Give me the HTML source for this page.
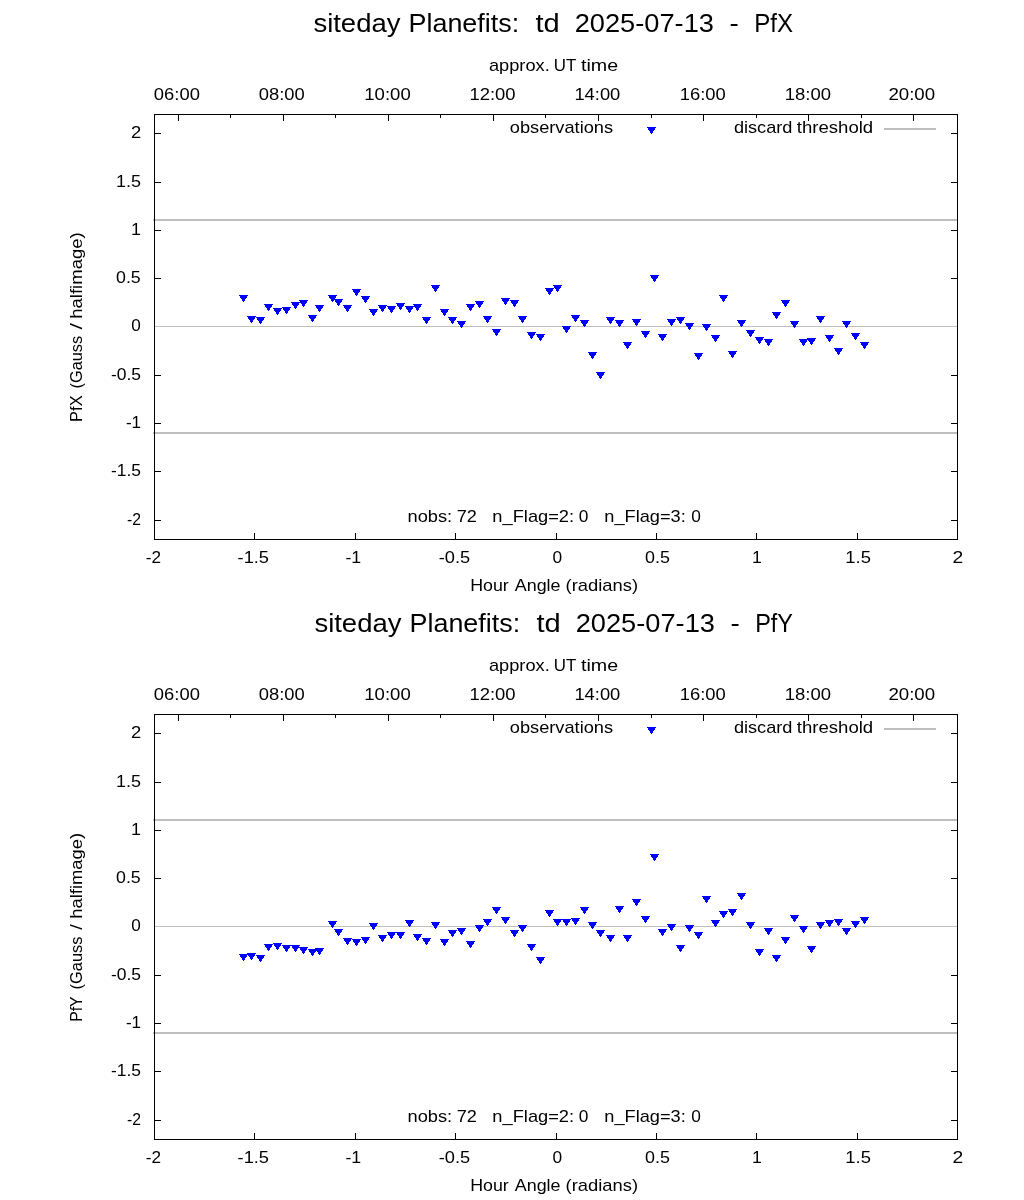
<!DOCTYPE html>
<html><head><meta charset="utf-8"><style>
html,body{margin:0;padding:0;background:#fff;}
svg{display:block;will-change:transform;}
text{font-family:"Liberation Sans",sans-serif;fill:#000;white-space:pre;}
rect,path{shape-rendering:crispEdges;}
</style></head><body>
<svg width="1024" height="1200" viewBox="0 0 1024 1200">
<rect x="0" y="0" width="1024" height="1200" fill="#fff"/>
<rect x="153" y="219" width="805" height="2" fill="#bebebe"/>
<rect x="153" y="432" width="805" height="2" fill="#bebebe"/>
<rect x="155" y="326" width="802" height="1" fill="#c0c0c0"/>
<rect x="154" y="114" width="804" height="1" fill="#000"/>
<rect x="154" y="539" width="804" height="1" fill="#000"/>
<rect x="154" y="114" width="1" height="426" fill="#000"/>
<rect x="957" y="114" width="1" height="426" fill="#000"/>
<rect x="154" y="133" width="7" height="1" fill="#000"/>
<rect x="951" y="133" width="7" height="1" fill="#000"/>
<rect x="154" y="182" width="7" height="1" fill="#000"/>
<rect x="951" y="182" width="7" height="1" fill="#000"/>
<rect x="154" y="230" width="7" height="1" fill="#000"/>
<rect x="951" y="230" width="7" height="1" fill="#000"/>
<rect x="154" y="278" width="7" height="1" fill="#000"/>
<rect x="951" y="278" width="7" height="1" fill="#000"/>
<rect x="154" y="375" width="7" height="1" fill="#000"/>
<rect x="951" y="375" width="7" height="1" fill="#000"/>
<rect x="154" y="423" width="7" height="1" fill="#000"/>
<rect x="951" y="423" width="7" height="1" fill="#000"/>
<rect x="154" y="471" width="7" height="1" fill="#000"/>
<rect x="951" y="471" width="7" height="1" fill="#000"/>
<rect x="154" y="520" width="7" height="1" fill="#000"/>
<rect x="951" y="520" width="7" height="1" fill="#000"/>
<rect x="254" y="533" width="1" height="7" fill="#000"/>
<rect x="355" y="533" width="1" height="7" fill="#000"/>
<rect x="455" y="533" width="1" height="7" fill="#000"/>
<rect x="556" y="533" width="1" height="7" fill="#000"/>
<rect x="656" y="533" width="1" height="7" fill="#000"/>
<rect x="756" y="533" width="1" height="7" fill="#000"/>
<rect x="857" y="533" width="1" height="7" fill="#000"/>
<rect x="178" y="114" width="1" height="7" fill="#000"/>
<rect x="230" y="114" width="1" height="4" fill="#000"/>
<rect x="283" y="114" width="1" height="7" fill="#000"/>
<rect x="335" y="114" width="1" height="4" fill="#000"/>
<rect x="388" y="114" width="1" height="7" fill="#000"/>
<rect x="440" y="114" width="1" height="4" fill="#000"/>
<rect x="493" y="114" width="1" height="7" fill="#000"/>
<rect x="545" y="114" width="1" height="4" fill="#000"/>
<rect x="598" y="114" width="1" height="7" fill="#000"/>
<rect x="651" y="114" width="1" height="4" fill="#000"/>
<rect x="703" y="114" width="1" height="7" fill="#000"/>
<rect x="756" y="114" width="1" height="4" fill="#000"/>
<rect x="808" y="114" width="1" height="7" fill="#000"/>
<rect x="861" y="114" width="1" height="4" fill="#000"/>
<rect x="913" y="114" width="1" height="7" fill="#000"/>
<rect x="884" y="128" width="52" height="2" fill="#bebebe"/>
<path d="M239 295h9v1h-1v2h-1v1h-1v2h-1v1h-1v-1h-1v-2h-1v-1h-1v-2h-1zM247 316h9v1h-1v2h-1v1h-1v2h-1v1h-1v-1h-1v-2h-1v-1h-1v-2h-1zM256 317h9v1h-1v2h-1v1h-1v2h-1v1h-1v-1h-1v-2h-1v-1h-1v-2h-1zM264 304h9v1h-1v2h-1v1h-1v2h-1v1h-1v-1h-1v-2h-1v-1h-1v-2h-1zM273 308h9v1h-1v2h-1v1h-1v2h-1v1h-1v-1h-1v-2h-1v-1h-1v-2h-1zM282 307h9v1h-1v2h-1v1h-1v2h-1v1h-1v-1h-1v-2h-1v-1h-1v-2h-1zM291 302h9v1h-1v2h-1v1h-1v2h-1v1h-1v-1h-1v-2h-1v-1h-1v-2h-1zM299 300h9v1h-1v2h-1v1h-1v2h-1v1h-1v-1h-1v-2h-1v-1h-1v-2h-1zM308 315h9v1h-1v2h-1v1h-1v2h-1v1h-1v-1h-1v-2h-1v-1h-1v-2h-1zM315 305h9v1h-1v2h-1v1h-1v2h-1v1h-1v-1h-1v-2h-1v-1h-1v-2h-1zM328 295h9v1h-1v2h-1v1h-1v2h-1v1h-1v-1h-1v-2h-1v-1h-1v-2h-1zM334 299h9v1h-1v2h-1v1h-1v2h-1v1h-1v-1h-1v-2h-1v-1h-1v-2h-1zM343 305h9v1h-1v2h-1v1h-1v2h-1v1h-1v-1h-1v-2h-1v-1h-1v-2h-1zM352 289h9v1h-1v2h-1v1h-1v2h-1v1h-1v-1h-1v-2h-1v-1h-1v-2h-1zM361 296h9v1h-1v2h-1v1h-1v2h-1v1h-1v-1h-1v-2h-1v-1h-1v-2h-1zM369 309h9v1h-1v2h-1v1h-1v2h-1v1h-1v-1h-1v-2h-1v-1h-1v-2h-1zM378 305h9v1h-1v2h-1v1h-1v2h-1v1h-1v-1h-1v-2h-1v-1h-1v-2h-1zM387 306h9v1h-1v2h-1v1h-1v2h-1v1h-1v-1h-1v-2h-1v-1h-1v-2h-1zM396 303h9v1h-1v2h-1v1h-1v2h-1v1h-1v-1h-1v-2h-1v-1h-1v-2h-1zM405 306h9v1h-1v2h-1v1h-1v2h-1v1h-1v-1h-1v-2h-1v-1h-1v-2h-1zM413 304h9v1h-1v2h-1v1h-1v2h-1v1h-1v-1h-1v-2h-1v-1h-1v-2h-1zM422 317h9v1h-1v2h-1v1h-1v2h-1v1h-1v-1h-1v-2h-1v-1h-1v-2h-1zM431 285h9v1h-1v2h-1v1h-1v2h-1v1h-1v-1h-1v-2h-1v-1h-1v-2h-1zM440 309h9v1h-1v2h-1v1h-1v2h-1v1h-1v-1h-1v-2h-1v-1h-1v-2h-1zM448 317h9v1h-1v2h-1v1h-1v2h-1v1h-1v-1h-1v-2h-1v-1h-1v-2h-1zM457 321h9v1h-1v2h-1v1h-1v2h-1v1h-1v-1h-1v-2h-1v-1h-1v-2h-1zM466 304h9v1h-1v2h-1v1h-1v2h-1v1h-1v-1h-1v-2h-1v-1h-1v-2h-1zM475 301h9v1h-1v2h-1v1h-1v2h-1v1h-1v-1h-1v-2h-1v-1h-1v-2h-1zM483 316h9v1h-1v2h-1v1h-1v2h-1v1h-1v-1h-1v-2h-1v-1h-1v-2h-1zM492 329h9v1h-1v2h-1v1h-1v2h-1v1h-1v-1h-1v-2h-1v-1h-1v-2h-1zM501 298h9v1h-1v2h-1v1h-1v2h-1v1h-1v-1h-1v-2h-1v-1h-1v-2h-1zM510 300h9v1h-1v2h-1v1h-1v2h-1v1h-1v-1h-1v-2h-1v-1h-1v-2h-1zM518 316h9v1h-1v2h-1v1h-1v2h-1v1h-1v-1h-1v-2h-1v-1h-1v-2h-1zM527 332h9v1h-1v2h-1v1h-1v2h-1v1h-1v-1h-1v-2h-1v-1h-1v-2h-1zM536 334h9v1h-1v2h-1v1h-1v2h-1v1h-1v-1h-1v-2h-1v-1h-1v-2h-1zM545 288h9v1h-1v2h-1v1h-1v2h-1v1h-1v-1h-1v-2h-1v-1h-1v-2h-1zM553 285h9v1h-1v2h-1v1h-1v2h-1v1h-1v-1h-1v-2h-1v-1h-1v-2h-1zM562 326h9v1h-1v2h-1v1h-1v2h-1v1h-1v-1h-1v-2h-1v-1h-1v-2h-1zM571 315h9v1h-1v2h-1v1h-1v2h-1v1h-1v-1h-1v-2h-1v-1h-1v-2h-1zM580 320h9v1h-1v2h-1v1h-1v2h-1v1h-1v-1h-1v-2h-1v-1h-1v-2h-1zM588 352h9v1h-1v2h-1v1h-1v2h-1v1h-1v-1h-1v-2h-1v-1h-1v-2h-1zM596 372h9v1h-1v2h-1v1h-1v2h-1v1h-1v-1h-1v-2h-1v-1h-1v-2h-1zM606 317h9v1h-1v2h-1v1h-1v2h-1v1h-1v-1h-1v-2h-1v-1h-1v-2h-1zM615 320h9v1h-1v2h-1v1h-1v2h-1v1h-1v-1h-1v-2h-1v-1h-1v-2h-1zM623 342h9v1h-1v2h-1v1h-1v2h-1v1h-1v-1h-1v-2h-1v-1h-1v-2h-1zM632 319h9v1h-1v2h-1v1h-1v2h-1v1h-1v-1h-1v-2h-1v-1h-1v-2h-1zM641 331h9v1h-1v2h-1v1h-1v2h-1v1h-1v-1h-1v-2h-1v-1h-1v-2h-1zM650 275h9v1h-1v2h-1v1h-1v2h-1v1h-1v-1h-1v-2h-1v-1h-1v-2h-1zM658 334h9v1h-1v2h-1v1h-1v2h-1v1h-1v-1h-1v-2h-1v-1h-1v-2h-1zM667 319h9v1h-1v2h-1v1h-1v2h-1v1h-1v-1h-1v-2h-1v-1h-1v-2h-1zM676 317h9v1h-1v2h-1v1h-1v2h-1v1h-1v-1h-1v-2h-1v-1h-1v-2h-1zM685 323h9v1h-1v2h-1v1h-1v2h-1v1h-1v-1h-1v-2h-1v-1h-1v-2h-1zM694 353h9v1h-1v2h-1v1h-1v2h-1v1h-1v-1h-1v-2h-1v-1h-1v-2h-1zM702 324h9v1h-1v2h-1v1h-1v2h-1v1h-1v-1h-1v-2h-1v-1h-1v-2h-1zM711 335h9v1h-1v2h-1v1h-1v2h-1v1h-1v-1h-1v-2h-1v-1h-1v-2h-1zM719 295h9v1h-1v2h-1v1h-1v2h-1v1h-1v-1h-1v-2h-1v-1h-1v-2h-1zM728 351h9v1h-1v2h-1v1h-1v2h-1v1h-1v-1h-1v-2h-1v-1h-1v-2h-1zM737 320h9v1h-1v2h-1v1h-1v2h-1v1h-1v-1h-1v-2h-1v-1h-1v-2h-1zM746 330h9v1h-1v2h-1v1h-1v2h-1v1h-1v-1h-1v-2h-1v-1h-1v-2h-1zM755 337h9v1h-1v2h-1v1h-1v2h-1v1h-1v-1h-1v-2h-1v-1h-1v-2h-1zM764 339h9v1h-1v2h-1v1h-1v2h-1v1h-1v-1h-1v-2h-1v-1h-1v-2h-1zM772 312h9v1h-1v2h-1v1h-1v2h-1v1h-1v-1h-1v-2h-1v-1h-1v-2h-1zM781 300h9v1h-1v2h-1v1h-1v2h-1v1h-1v-1h-1v-2h-1v-1h-1v-2h-1zM790 321h9v1h-1v2h-1v1h-1v2h-1v1h-1v-1h-1v-2h-1v-1h-1v-2h-1zM799 339h9v1h-1v2h-1v1h-1v2h-1v1h-1v-1h-1v-2h-1v-1h-1v-2h-1zM807 338h9v1h-1v2h-1v1h-1v2h-1v1h-1v-1h-1v-2h-1v-1h-1v-2h-1zM816 316h9v1h-1v2h-1v1h-1v2h-1v1h-1v-1h-1v-2h-1v-1h-1v-2h-1zM825 335h9v1h-1v2h-1v1h-1v2h-1v1h-1v-1h-1v-2h-1v-1h-1v-2h-1zM834 348h9v1h-1v2h-1v1h-1v2h-1v1h-1v-1h-1v-2h-1v-1h-1v-2h-1zM842 321h9v1h-1v2h-1v1h-1v2h-1v1h-1v-1h-1v-2h-1v-1h-1v-2h-1zM851 333h9v1h-1v2h-1v1h-1v2h-1v1h-1v-1h-1v-2h-1v-1h-1v-2h-1zM860 342h9v1h-1v2h-1v1h-1v2h-1v1h-1v-1h-1v-2h-1v-1h-1v-2h-1zM647 127h9v1h-1v2h-1v1h-1v2h-1v1h-1v-1h-1v-2h-1v-1h-1v-2h-1z" fill="#0000ff"/>
<text x="313.40" y="31.70" font-size="25.58" textLength="87.06" lengthAdjust="spacingAndGlyphs">siteday</text>
<text x="408.57" y="31.70" font-size="25.58" textLength="110.59" lengthAdjust="spacingAndGlyphs">Planefits:</text>
<text x="535.40" y="31.70" font-size="25.58" textLength="24.27" lengthAdjust="spacingAndGlyphs">td</text>
<text x="574.67" y="31.70" font-size="25.58" textLength="139.34" lengthAdjust="spacingAndGlyphs">2025-07-13</text>
<text x="729.57" y="31.70" font-size="25.58" textLength="9.31" lengthAdjust="spacingAndGlyphs">-</text>
<text x="754.18" y="31.70" font-size="25.58" textLength="38.80" lengthAdjust="spacingAndGlyphs">PfX</text>
<text x="488.98" y="70.90" font-size="16.57" textLength="60.77" lengthAdjust="spacingAndGlyphs">approx.</text>
<text x="553.71" y="70.90" font-size="16.57" textLength="22.49" lengthAdjust="spacingAndGlyphs">UT</text>
<text x="581.02" y="70.90" font-size="16.57" textLength="37.21" lengthAdjust="spacingAndGlyphs">time</text>
<text x="153.84" y="100.25" font-size="16.57" textLength="46.08" lengthAdjust="spacingAndGlyphs">06:00</text>
<text x="258.84" y="100.25" font-size="16.57" textLength="45.98" lengthAdjust="spacingAndGlyphs">08:00</text>
<text x="364.32" y="100.25" font-size="16.57" textLength="46.41" lengthAdjust="spacingAndGlyphs">10:00</text>
<text x="469.42" y="100.25" font-size="16.57" textLength="46.20" lengthAdjust="spacingAndGlyphs">12:00</text>
<text x="574.43" y="100.25" font-size="16.57" textLength="45.89" lengthAdjust="spacingAndGlyphs">14:00</text>
<text x="679.83" y="100.25" font-size="16.57" textLength="45.99" lengthAdjust="spacingAndGlyphs">16:00</text>
<text x="784.72" y="100.25" font-size="16.57" textLength="46.30" lengthAdjust="spacingAndGlyphs">18:00</text>
<text x="888.41" y="100.25" font-size="16.57" textLength="46.72" lengthAdjust="spacingAndGlyphs">20:00</text>
<text x="130.92" y="138.00" font-size="16.57" textLength="10.23" lengthAdjust="spacingAndGlyphs">2</text>
<text x="116.06" y="187.00" font-size="16.57" textLength="25.00" lengthAdjust="spacingAndGlyphs">1.5</text>
<text x="131.07" y="235.00" font-size="16.57" textLength="9.92" lengthAdjust="spacingAndGlyphs">1</text>
<text x="116.02" y="283.00" font-size="16.57" textLength="24.73" lengthAdjust="spacingAndGlyphs">0.5</text>
<text x="131.19" y="331.00" font-size="16.57" textLength="9.53" lengthAdjust="spacingAndGlyphs">0</text>
<text x="110.93" y="380.00" font-size="16.57" textLength="30.08" lengthAdjust="spacingAndGlyphs">-0.5</text>
<text x="125.95" y="428.00" font-size="16.57" textLength="15.13" lengthAdjust="spacingAndGlyphs">-1</text>
<text x="110.93" y="476.00" font-size="16.57" textLength="30.08" lengthAdjust="spacingAndGlyphs">-1.5</text>
<text x="127.00" y="525.00" font-size="16.57" textLength="14.03" lengthAdjust="spacingAndGlyphs">-2</text>
<text transform="translate(81.90 421.90) rotate(-90)" font-size="16.57" textLength="26.55" lengthAdjust="spacingAndGlyphs">PfX</text>
<text transform="translate(81.90 388.50) rotate(-90)" font-size="16.57" textLength="52.66" lengthAdjust="spacingAndGlyphs">(Gauss</text>
<text transform="translate(81.90 329.45) rotate(-90)" font-size="16.57" textLength="6.56" lengthAdjust="spacingAndGlyphs">/</text>
<text transform="translate(81.90 318.74) rotate(-90)" font-size="16.57" textLength="86.49" lengthAdjust="spacingAndGlyphs">halfimage)</text>
<text x="509.81" y="132.80" font-size="16.57" textLength="103.25" lengthAdjust="spacingAndGlyphs">observations</text>
<text x="733.90" y="132.50" font-size="16.57" textLength="58.55" lengthAdjust="spacingAndGlyphs">discard</text>
<text x="796.84" y="132.50" font-size="16.57" textLength="76.36" lengthAdjust="spacingAndGlyphs">threshold</text>
<text x="407.57" y="521.90" font-size="16.57" textLength="44.64" lengthAdjust="spacingAndGlyphs">nobs:</text>
<text x="456.65" y="521.90" font-size="16.57" textLength="20.17" lengthAdjust="spacingAndGlyphs">72</text>
<text x="492.37" y="521.90" font-size="16.57" textLength="81.76" lengthAdjust="spacingAndGlyphs">n_Flag=2:</text>
<text x="578.79" y="521.90" font-size="16.57" textLength="9.65" lengthAdjust="spacingAndGlyphs">0</text>
<text x="604.38" y="521.90" font-size="16.57" textLength="81.35" lengthAdjust="spacingAndGlyphs">n_Flag=3:</text>
<text x="691.29" y="521.90" font-size="16.57" textLength="9.65" lengthAdjust="spacingAndGlyphs">0</text>
<text x="145.84" y="563.00" font-size="16.57" textLength="15.27" lengthAdjust="spacingAndGlyphs">-2</text>
<text x="237.59" y="563.00" font-size="16.57" textLength="31.45" lengthAdjust="spacingAndGlyphs">-1.5</text>
<text x="345.41" y="563.00" font-size="16.57" textLength="15.80" lengthAdjust="spacingAndGlyphs">-1</text>
<text x="438.79" y="563.00" font-size="16.57" textLength="31.45" lengthAdjust="spacingAndGlyphs">-0.5</text>
<text x="552.49" y="563.00" font-size="16.57" textLength="9.65" lengthAdjust="spacingAndGlyphs">0</text>
<text x="645.06" y="563.00" font-size="16.57" textLength="24.89" lengthAdjust="spacingAndGlyphs">0.5</text>
<text x="751.99" y="563.00" font-size="16.57" textLength="9.79" lengthAdjust="spacingAndGlyphs">1</text>
<text x="845.32" y="563.00" font-size="16.57" textLength="25.65" lengthAdjust="spacingAndGlyphs">1.5</text>
<text x="952.58" y="563.00" font-size="16.57" textLength="10.71" lengthAdjust="spacingAndGlyphs">2</text>
<text x="470.19" y="590.80" font-size="16.57" textLength="38.59" lengthAdjust="spacingAndGlyphs">Hour</text>
<text x="514.76" y="590.80" font-size="16.57" textLength="45.82" lengthAdjust="spacingAndGlyphs">Angle</text>
<text x="565.59" y="590.80" font-size="16.57" textLength="72.46" lengthAdjust="spacingAndGlyphs">(radians)</text>
<rect x="153" y="819" width="805" height="2" fill="#bebebe"/>
<rect x="153" y="1032" width="805" height="2" fill="#bebebe"/>
<rect x="155" y="926" width="802" height="1" fill="#c0c0c0"/>
<rect x="154" y="714" width="804" height="1" fill="#000"/>
<rect x="154" y="1139" width="804" height="1" fill="#000"/>
<rect x="154" y="714" width="1" height="426" fill="#000"/>
<rect x="957" y="714" width="1" height="426" fill="#000"/>
<rect x="154" y="733" width="7" height="1" fill="#000"/>
<rect x="951" y="733" width="7" height="1" fill="#000"/>
<rect x="154" y="782" width="7" height="1" fill="#000"/>
<rect x="951" y="782" width="7" height="1" fill="#000"/>
<rect x="154" y="830" width="7" height="1" fill="#000"/>
<rect x="951" y="830" width="7" height="1" fill="#000"/>
<rect x="154" y="878" width="7" height="1" fill="#000"/>
<rect x="951" y="878" width="7" height="1" fill="#000"/>
<rect x="154" y="975" width="7" height="1" fill="#000"/>
<rect x="951" y="975" width="7" height="1" fill="#000"/>
<rect x="154" y="1023" width="7" height="1" fill="#000"/>
<rect x="951" y="1023" width="7" height="1" fill="#000"/>
<rect x="154" y="1071" width="7" height="1" fill="#000"/>
<rect x="951" y="1071" width="7" height="1" fill="#000"/>
<rect x="154" y="1120" width="7" height="1" fill="#000"/>
<rect x="951" y="1120" width="7" height="1" fill="#000"/>
<rect x="254" y="1133" width="1" height="7" fill="#000"/>
<rect x="355" y="1133" width="1" height="7" fill="#000"/>
<rect x="455" y="1133" width="1" height="7" fill="#000"/>
<rect x="556" y="1133" width="1" height="7" fill="#000"/>
<rect x="656" y="1133" width="1" height="7" fill="#000"/>
<rect x="756" y="1133" width="1" height="7" fill="#000"/>
<rect x="857" y="1133" width="1" height="7" fill="#000"/>
<rect x="178" y="714" width="1" height="7" fill="#000"/>
<rect x="230" y="714" width="1" height="4" fill="#000"/>
<rect x="283" y="714" width="1" height="7" fill="#000"/>
<rect x="335" y="714" width="1" height="4" fill="#000"/>
<rect x="388" y="714" width="1" height="7" fill="#000"/>
<rect x="440" y="714" width="1" height="4" fill="#000"/>
<rect x="493" y="714" width="1" height="7" fill="#000"/>
<rect x="545" y="714" width="1" height="4" fill="#000"/>
<rect x="598" y="714" width="1" height="7" fill="#000"/>
<rect x="651" y="714" width="1" height="4" fill="#000"/>
<rect x="703" y="714" width="1" height="7" fill="#000"/>
<rect x="756" y="714" width="1" height="4" fill="#000"/>
<rect x="808" y="714" width="1" height="7" fill="#000"/>
<rect x="861" y="714" width="1" height="4" fill="#000"/>
<rect x="913" y="714" width="1" height="7" fill="#000"/>
<rect x="884" y="728" width="52" height="2" fill="#bebebe"/>
<path d="M239 954h9v1h-1v2h-1v1h-1v2h-1v1h-1v-1h-1v-2h-1v-1h-1v-2h-1zM247 953h9v1h-1v2h-1v1h-1v2h-1v1h-1v-1h-1v-2h-1v-1h-1v-2h-1zM256 955h9v1h-1v2h-1v1h-1v2h-1v1h-1v-1h-1v-2h-1v-1h-1v-2h-1zM264 944h9v1h-1v2h-1v1h-1v2h-1v1h-1v-1h-1v-2h-1v-1h-1v-2h-1zM273 943h9v1h-1v2h-1v1h-1v2h-1v1h-1v-1h-1v-2h-1v-1h-1v-2h-1zM282 945h9v1h-1v2h-1v1h-1v2h-1v1h-1v-1h-1v-2h-1v-1h-1v-2h-1zM291 945h9v1h-1v2h-1v1h-1v2h-1v1h-1v-1h-1v-2h-1v-1h-1v-2h-1zM299 947h9v1h-1v2h-1v1h-1v2h-1v1h-1v-1h-1v-2h-1v-1h-1v-2h-1zM308 949h9v1h-1v2h-1v1h-1v2h-1v1h-1v-1h-1v-2h-1v-1h-1v-2h-1zM315 948h9v1h-1v2h-1v1h-1v2h-1v1h-1v-1h-1v-2h-1v-1h-1v-2h-1zM328 921h9v1h-1v2h-1v1h-1v2h-1v1h-1v-1h-1v-2h-1v-1h-1v-2h-1zM334 929h9v1h-1v2h-1v1h-1v2h-1v1h-1v-1h-1v-2h-1v-1h-1v-2h-1zM343 938h9v1h-1v2h-1v1h-1v2h-1v1h-1v-1h-1v-2h-1v-1h-1v-2h-1zM352 939h9v1h-1v2h-1v1h-1v2h-1v1h-1v-1h-1v-2h-1v-1h-1v-2h-1zM361 937h9v1h-1v2h-1v1h-1v2h-1v1h-1v-1h-1v-2h-1v-1h-1v-2h-1zM369 923h9v1h-1v2h-1v1h-1v2h-1v1h-1v-1h-1v-2h-1v-1h-1v-2h-1zM378 935h9v1h-1v2h-1v1h-1v2h-1v1h-1v-1h-1v-2h-1v-1h-1v-2h-1zM387 932h9v1h-1v2h-1v1h-1v2h-1v1h-1v-1h-1v-2h-1v-1h-1v-2h-1zM396 932h9v1h-1v2h-1v1h-1v2h-1v1h-1v-1h-1v-2h-1v-1h-1v-2h-1zM405 920h9v1h-1v2h-1v1h-1v2h-1v1h-1v-1h-1v-2h-1v-1h-1v-2h-1zM413 934h9v1h-1v2h-1v1h-1v2h-1v1h-1v-1h-1v-2h-1v-1h-1v-2h-1zM422 938h9v1h-1v2h-1v1h-1v2h-1v1h-1v-1h-1v-2h-1v-1h-1v-2h-1zM431 922h9v1h-1v2h-1v1h-1v2h-1v1h-1v-1h-1v-2h-1v-1h-1v-2h-1zM440 939h9v1h-1v2h-1v1h-1v2h-1v1h-1v-1h-1v-2h-1v-1h-1v-2h-1zM448 930h9v1h-1v2h-1v1h-1v2h-1v1h-1v-1h-1v-2h-1v-1h-1v-2h-1zM457 928h9v1h-1v2h-1v1h-1v2h-1v1h-1v-1h-1v-2h-1v-1h-1v-2h-1zM466 941h9v1h-1v2h-1v1h-1v2h-1v1h-1v-1h-1v-2h-1v-1h-1v-2h-1zM475 925h9v1h-1v2h-1v1h-1v2h-1v1h-1v-1h-1v-2h-1v-1h-1v-2h-1zM483 919h9v1h-1v2h-1v1h-1v2h-1v1h-1v-1h-1v-2h-1v-1h-1v-2h-1zM492 907h9v1h-1v2h-1v1h-1v2h-1v1h-1v-1h-1v-2h-1v-1h-1v-2h-1zM501 917h9v1h-1v2h-1v1h-1v2h-1v1h-1v-1h-1v-2h-1v-1h-1v-2h-1zM510 930h9v1h-1v2h-1v1h-1v2h-1v1h-1v-1h-1v-2h-1v-1h-1v-2h-1zM518 925h9v1h-1v2h-1v1h-1v2h-1v1h-1v-1h-1v-2h-1v-1h-1v-2h-1zM527 944h9v1h-1v2h-1v1h-1v2h-1v1h-1v-1h-1v-2h-1v-1h-1v-2h-1zM536 957h9v1h-1v2h-1v1h-1v2h-1v1h-1v-1h-1v-2h-1v-1h-1v-2h-1zM545 910h9v1h-1v2h-1v1h-1v2h-1v1h-1v-1h-1v-2h-1v-1h-1v-2h-1zM553 919h9v1h-1v2h-1v1h-1v2h-1v1h-1v-1h-1v-2h-1v-1h-1v-2h-1zM562 919h9v1h-1v2h-1v1h-1v2h-1v1h-1v-1h-1v-2h-1v-1h-1v-2h-1zM571 918h9v1h-1v2h-1v1h-1v2h-1v1h-1v-1h-1v-2h-1v-1h-1v-2h-1zM580 907h9v1h-1v2h-1v1h-1v2h-1v1h-1v-1h-1v-2h-1v-1h-1v-2h-1zM588 922h9v1h-1v2h-1v1h-1v2h-1v1h-1v-1h-1v-2h-1v-1h-1v-2h-1zM596 930h9v1h-1v2h-1v1h-1v2h-1v1h-1v-1h-1v-2h-1v-1h-1v-2h-1zM606 935h9v1h-1v2h-1v1h-1v2h-1v1h-1v-1h-1v-2h-1v-1h-1v-2h-1zM615 906h9v1h-1v2h-1v1h-1v2h-1v1h-1v-1h-1v-2h-1v-1h-1v-2h-1zM623 935h9v1h-1v2h-1v1h-1v2h-1v1h-1v-1h-1v-2h-1v-1h-1v-2h-1zM632 899h9v1h-1v2h-1v1h-1v2h-1v1h-1v-1h-1v-2h-1v-1h-1v-2h-1zM641 916h9v1h-1v2h-1v1h-1v2h-1v1h-1v-1h-1v-2h-1v-1h-1v-2h-1zM650 854h9v1h-1v2h-1v1h-1v2h-1v1h-1v-1h-1v-2h-1v-1h-1v-2h-1zM658 929h9v1h-1v2h-1v1h-1v2h-1v1h-1v-1h-1v-2h-1v-1h-1v-2h-1zM667 924h9v1h-1v2h-1v1h-1v2h-1v1h-1v-1h-1v-2h-1v-1h-1v-2h-1zM676 945h9v1h-1v2h-1v1h-1v2h-1v1h-1v-1h-1v-2h-1v-1h-1v-2h-1zM685 925h9v1h-1v2h-1v1h-1v2h-1v1h-1v-1h-1v-2h-1v-1h-1v-2h-1zM694 932h9v1h-1v2h-1v1h-1v2h-1v1h-1v-1h-1v-2h-1v-1h-1v-2h-1zM702 896h9v1h-1v2h-1v1h-1v2h-1v1h-1v-1h-1v-2h-1v-1h-1v-2h-1zM711 920h9v1h-1v2h-1v1h-1v2h-1v1h-1v-1h-1v-2h-1v-1h-1v-2h-1zM719 911h9v1h-1v2h-1v1h-1v2h-1v1h-1v-1h-1v-2h-1v-1h-1v-2h-1zM728 909h9v1h-1v2h-1v1h-1v2h-1v1h-1v-1h-1v-2h-1v-1h-1v-2h-1zM737 893h9v1h-1v2h-1v1h-1v2h-1v1h-1v-1h-1v-2h-1v-1h-1v-2h-1zM746 922h9v1h-1v2h-1v1h-1v2h-1v1h-1v-1h-1v-2h-1v-1h-1v-2h-1zM755 949h9v1h-1v2h-1v1h-1v2h-1v1h-1v-1h-1v-2h-1v-1h-1v-2h-1zM764 928h9v1h-1v2h-1v1h-1v2h-1v1h-1v-1h-1v-2h-1v-1h-1v-2h-1zM772 955h9v1h-1v2h-1v1h-1v2h-1v1h-1v-1h-1v-2h-1v-1h-1v-2h-1zM781 937h9v1h-1v2h-1v1h-1v2h-1v1h-1v-1h-1v-2h-1v-1h-1v-2h-1zM790 915h9v1h-1v2h-1v1h-1v2h-1v1h-1v-1h-1v-2h-1v-1h-1v-2h-1zM799 926h9v1h-1v2h-1v1h-1v2h-1v1h-1v-1h-1v-2h-1v-1h-1v-2h-1zM807 946h9v1h-1v2h-1v1h-1v2h-1v1h-1v-1h-1v-2h-1v-1h-1v-2h-1zM816 922h9v1h-1v2h-1v1h-1v2h-1v1h-1v-1h-1v-2h-1v-1h-1v-2h-1zM825 920h9v1h-1v2h-1v1h-1v2h-1v1h-1v-1h-1v-2h-1v-1h-1v-2h-1zM834 919h9v1h-1v2h-1v1h-1v2h-1v1h-1v-1h-1v-2h-1v-1h-1v-2h-1zM842 928h9v1h-1v2h-1v1h-1v2h-1v1h-1v-1h-1v-2h-1v-1h-1v-2h-1zM851 921h9v1h-1v2h-1v1h-1v2h-1v1h-1v-1h-1v-2h-1v-1h-1v-2h-1zM860 917h9v1h-1v2h-1v1h-1v2h-1v1h-1v-1h-1v-2h-1v-1h-1v-2h-1zM647 727h9v1h-1v2h-1v1h-1v2h-1v1h-1v-1h-1v-2h-1v-1h-1v-2h-1z" fill="#0000ff"/>
<text x="314.40" y="631.70" font-size="25.58" textLength="87.06" lengthAdjust="spacingAndGlyphs">siteday</text>
<text x="409.57" y="631.70" font-size="25.58" textLength="110.59" lengthAdjust="spacingAndGlyphs">Planefits:</text>
<text x="536.40" y="631.70" font-size="25.58" textLength="24.27" lengthAdjust="spacingAndGlyphs">td</text>
<text x="575.67" y="631.70" font-size="25.58" textLength="139.34" lengthAdjust="spacingAndGlyphs">2025-07-13</text>
<text x="730.57" y="631.70" font-size="25.58" textLength="9.31" lengthAdjust="spacingAndGlyphs">-</text>
<text x="755.13" y="631.70" font-size="25.58" textLength="37.84" lengthAdjust="spacingAndGlyphs">PfY</text>
<text x="488.98" y="670.90" font-size="16.57" textLength="60.77" lengthAdjust="spacingAndGlyphs">approx.</text>
<text x="553.71" y="670.90" font-size="16.57" textLength="22.49" lengthAdjust="spacingAndGlyphs">UT</text>
<text x="581.02" y="670.90" font-size="16.57" textLength="37.21" lengthAdjust="spacingAndGlyphs">time</text>
<text x="153.84" y="700.25" font-size="16.57" textLength="46.08" lengthAdjust="spacingAndGlyphs">06:00</text>
<text x="258.84" y="700.25" font-size="16.57" textLength="45.98" lengthAdjust="spacingAndGlyphs">08:00</text>
<text x="364.32" y="700.25" font-size="16.57" textLength="46.41" lengthAdjust="spacingAndGlyphs">10:00</text>
<text x="469.42" y="700.25" font-size="16.57" textLength="46.20" lengthAdjust="spacingAndGlyphs">12:00</text>
<text x="574.43" y="700.25" font-size="16.57" textLength="45.89" lengthAdjust="spacingAndGlyphs">14:00</text>
<text x="679.83" y="700.25" font-size="16.57" textLength="45.99" lengthAdjust="spacingAndGlyphs">16:00</text>
<text x="784.72" y="700.25" font-size="16.57" textLength="46.30" lengthAdjust="spacingAndGlyphs">18:00</text>
<text x="888.41" y="700.25" font-size="16.57" textLength="46.72" lengthAdjust="spacingAndGlyphs">20:00</text>
<text x="130.92" y="738.00" font-size="16.57" textLength="10.23" lengthAdjust="spacingAndGlyphs">2</text>
<text x="116.06" y="787.00" font-size="16.57" textLength="25.00" lengthAdjust="spacingAndGlyphs">1.5</text>
<text x="131.07" y="835.00" font-size="16.57" textLength="9.92" lengthAdjust="spacingAndGlyphs">1</text>
<text x="116.02" y="883.00" font-size="16.57" textLength="24.73" lengthAdjust="spacingAndGlyphs">0.5</text>
<text x="131.19" y="931.00" font-size="16.57" textLength="9.53" lengthAdjust="spacingAndGlyphs">0</text>
<text x="110.93" y="980.00" font-size="16.57" textLength="30.08" lengthAdjust="spacingAndGlyphs">-0.5</text>
<text x="125.95" y="1028.00" font-size="16.57" textLength="15.13" lengthAdjust="spacingAndGlyphs">-1</text>
<text x="110.93" y="1076.00" font-size="16.57" textLength="30.08" lengthAdjust="spacingAndGlyphs">-1.5</text>
<text x="127.00" y="1125.00" font-size="16.57" textLength="14.03" lengthAdjust="spacingAndGlyphs">-2</text>
<text transform="translate(81.90 1021.85) rotate(-90)" font-size="16.57" textLength="25.55" lengthAdjust="spacingAndGlyphs">PfY</text>
<text transform="translate(81.90 989.40) rotate(-90)" font-size="16.57" textLength="52.76" lengthAdjust="spacingAndGlyphs">(Gauss</text>
<text transform="translate(81.90 929.80) rotate(-90)" font-size="16.57" textLength="5.59" lengthAdjust="spacingAndGlyphs">/</text>
<text transform="translate(81.90 918.73) rotate(-90)" font-size="16.57" textLength="85.77" lengthAdjust="spacingAndGlyphs">halfimage)</text>
<text x="509.81" y="732.80" font-size="16.57" textLength="103.25" lengthAdjust="spacingAndGlyphs">observations</text>
<text x="733.90" y="732.50" font-size="16.57" textLength="58.55" lengthAdjust="spacingAndGlyphs">discard</text>
<text x="796.84" y="732.50" font-size="16.57" textLength="76.36" lengthAdjust="spacingAndGlyphs">threshold</text>
<text x="407.57" y="1121.90" font-size="16.57" textLength="44.64" lengthAdjust="spacingAndGlyphs">nobs:</text>
<text x="456.65" y="1121.90" font-size="16.57" textLength="20.17" lengthAdjust="spacingAndGlyphs">72</text>
<text x="492.37" y="1121.90" font-size="16.57" textLength="81.76" lengthAdjust="spacingAndGlyphs">n_Flag=2:</text>
<text x="578.79" y="1121.90" font-size="16.57" textLength="9.65" lengthAdjust="spacingAndGlyphs">0</text>
<text x="604.38" y="1121.90" font-size="16.57" textLength="81.35" lengthAdjust="spacingAndGlyphs">n_Flag=3:</text>
<text x="691.29" y="1121.90" font-size="16.57" textLength="9.65" lengthAdjust="spacingAndGlyphs">0</text>
<text x="145.84" y="1163.00" font-size="16.57" textLength="15.27" lengthAdjust="spacingAndGlyphs">-2</text>
<text x="237.59" y="1163.00" font-size="16.57" textLength="31.45" lengthAdjust="spacingAndGlyphs">-1.5</text>
<text x="345.41" y="1163.00" font-size="16.57" textLength="15.80" lengthAdjust="spacingAndGlyphs">-1</text>
<text x="438.79" y="1163.00" font-size="16.57" textLength="31.45" lengthAdjust="spacingAndGlyphs">-0.5</text>
<text x="552.49" y="1163.00" font-size="16.57" textLength="9.65" lengthAdjust="spacingAndGlyphs">0</text>
<text x="645.06" y="1163.00" font-size="16.57" textLength="24.89" lengthAdjust="spacingAndGlyphs">0.5</text>
<text x="751.99" y="1163.00" font-size="16.57" textLength="9.79" lengthAdjust="spacingAndGlyphs">1</text>
<text x="845.32" y="1163.00" font-size="16.57" textLength="25.65" lengthAdjust="spacingAndGlyphs">1.5</text>
<text x="952.58" y="1163.00" font-size="16.57" textLength="10.71" lengthAdjust="spacingAndGlyphs">2</text>
<text x="470.19" y="1190.80" font-size="16.57" textLength="38.59" lengthAdjust="spacingAndGlyphs">Hour</text>
<text x="514.76" y="1190.80" font-size="16.57" textLength="45.82" lengthAdjust="spacingAndGlyphs">Angle</text>
<text x="565.59" y="1190.80" font-size="16.57" textLength="72.46" lengthAdjust="spacingAndGlyphs">(radians)</text>
</svg>
</body></html>
